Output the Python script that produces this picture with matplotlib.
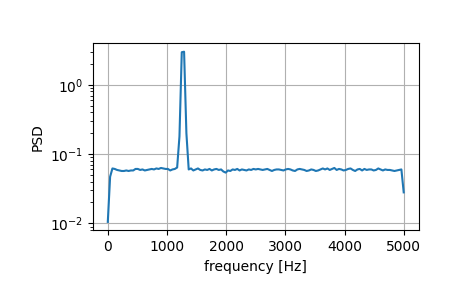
import numpy as np
import matplotlib
matplotlib.use('Agg')
import matplotlib.pyplot as plt

# welch-style PSD estimate, 129 bins from 0 to fs/2
f_max = 5000.0
psd = [
    0.0105, 0.047, 0.062, 0.061, 0.059, 0.058, 0.057, 0.057, 0.058, 0.057,
    0.058, 0.058, 0.061, 0.061, 0.059, 0.060, 0.058, 0.059, 0.060, 0.061,
    0.060, 0.062, 0.061, 0.063, 0.062, 0.061, 0.061, 0.058, 0.060, 0.061,
    0.064, 0.18, 2.95, 3.0, 0.2, 0.060, 0.062, 0.058, 0.060, 0.062,
    0.059, 0.058, 0.060, 0.059, 0.061, 0.058, 0.060, 0.061, 0.059, 0.060,
    0.056, 0.054, 0.058, 0.057, 0.060, 0.059, 0.061, 0.058, 0.060, 0.059,
    0.058, 0.060, 0.059, 0.061, 0.060, 0.061, 0.060, 0.059, 0.060, 0.061,
    0.059, 0.057, 0.059, 0.060, 0.060, 0.059, 0.058, 0.060, 0.061, 0.060,
    0.058, 0.057, 0.060, 0.061, 0.060, 0.059, 0.057, 0.058, 0.060, 0.059,
    0.057, 0.058, 0.060, 0.062, 0.060, 0.062, 0.059, 0.061, 0.063, 0.059,
    0.061, 0.060, 0.058, 0.059, 0.061, 0.062, 0.059, 0.057, 0.060, 0.061,
    0.058, 0.061, 0.059, 0.060, 0.060, 0.058, 0.059, 0.062, 0.060, 0.058,
    0.060, 0.059, 0.059, 0.058, 0.057, 0.058, 0.059, 0.060, 0.028,
]
freqs = np.linspace(0, f_max, len(psd))

fig = plt.figure(figsize=(4.65, 2.88), dpi=100)
fig.subplots_adjust(left=0.2, right=0.9, top=0.85, bottom=0.2)
ax = fig.add_subplot(111)
ax.semilogy(freqs, psd)
ax.set_xlabel('frequency [Hz]')
ax.set_ylabel('PSD')
ax.grid(True)

fig.savefig('out.png', dpi=100)
